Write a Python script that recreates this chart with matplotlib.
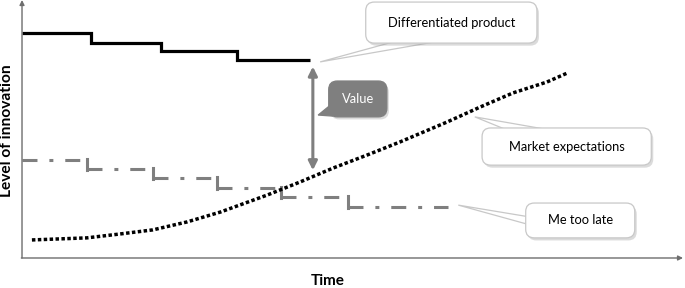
import numpy as np
import matplotlib
matplotlib.use("Agg")
import matplotlib.pyplot as plt
from matplotlib.patches import FancyBboxPatch, Polygon

plt.rcParams['font.family'] = ['Lato', 'DejaVu Sans']

# --- datos (tiempo 0-10, nivel 0-10) ---
diff_t = [0, 1.05, 2.10, 3.25, 4.36]
diff_level = [8.72, 8.33, 8.02, 7.67]

late_t = [0, 0.98, 1.98, 2.95, 3.92, 4.93, 6.44]
late_level = [3.80, 3.45, 3.10, 2.71, 2.36, 1.98]

market_t = [0.15, 0.98, 1.48, 1.98, 2.50, 3.00, 3.71, 4.21, 4.71, 5.22, 5.72,
            6.43, 6.93, 7.43, 7.94, 8.25]
market_level = [0.70, 0.78, 0.93, 1.09, 1.40, 1.78, 2.44, 2.95, 3.49, 3.99, 4.50,
                5.27, 5.85, 6.40, 6.82, 7.17]

value_t = 4.40
value_top = 7.42
value_bottom = 3.40

labels = ["Differentiated product", "Value", "Market expectations", "Me too late"]

GRIS = "#7f7f7f"

fig = plt.figure(figsize=(6.85, 2.88), dpi=100)
ax = fig.add_axes([0, 0, 1, 1])
ax.set_xlim(-0.333, 10.03)
ax.set_ylim(-1.163, 10.0)
ax.axis('off')

# ejes con flecha
ax.annotate("", xy=(0, 10.0), xytext=(0, 0),
            arrowprops=dict(arrowstyle="-|>", color="#6e6e6e", lw=1.0, mutation_scale=7,
                            shrinkA=0, shrinkB=0))
ax.annotate("", xy=(10.0, 0), xytext=(-0.01, 0),
            arrowprops=dict(arrowstyle="-|>", color="#6e6e6e", lw=1.0, mutation_scale=7,
                            shrinkA=0, shrinkB=0))


def escalones(t, niveles):
    xs, ys = [], []
    for i, lv in enumerate(niveles):
        xs += [t[i], t[i + 1]]
        ys += [lv, lv]
    return xs, ys


xs, ys = escalones(diff_t, diff_level)
ax.plot(xs, ys, color="black", lw=2.3, solid_capstyle="butt", solid_joinstyle="miter")

# "me too late": cada tramo arranca con su propio patrón
for i, lv in enumerate(late_level):
    ax.plot([late_t[i], late_t[i + 1]], [lv, lv], color=GRIS, lw=2.2,
            linestyle=(0, (4.9, 3.9, 1.3, 3.9)), dash_capstyle="butt")
    if i > 0:
        ax.plot([late_t[i], late_t[i]], [late_level[i - 1] + 0.04, lv - 0.04], color=GRIS,
                lw=2.2, solid_capstyle="projecting")

ax.plot(market_t, market_level, color="black", lw=2.5, linestyle=(0, (1, 0.7)),
        dash_capstyle="butt")

# flecha de valor
ax.annotate("", xy=(value_t, value_top), xytext=(value_t, value_bottom),
            arrowprops=dict(arrowstyle="<|-|>", color=GRIS, lw=2.2, mutation_scale=13,
                            shrinkA=0, shrinkB=0))

ASPECT = 66.1 / 25.8


def callout(x0, y0, x1, y1, texto, cola, punta, fc="white", ec="#c8c8c8", tc="black"):
    # cola (triángulo)
    ax.add_patch(Polygon([cola[0], punta, cola[1]], closed=True, fc=fc, ec=ec, lw=0.9, zorder=3))
    # sombra
    sh = FancyBboxPatch((x0 + 0.03, y0 - 0.1), x1 - x0, y1 - y0,
                        boxstyle="round,pad=0,rounding_size=0.13", mutation_aspect=ASPECT,
                        fc="#9a9a9a", ec="none", alpha=0.35, zorder=3)
    ax.add_patch(sh)
    caja = FancyBboxPatch((x0, y0), x1 - x0, y1 - y0,
                          boxstyle="round,pad=0,rounding_size=0.13", mutation_aspect=ASPECT,
                          fc=fc, ec=ec, lw=0.9, zorder=4)
    ax.add_patch(caja)
    ax.text((x0 + x1) / 2, (y0 + y1) / 2, texto, ha="center", va="center",
            fontsize=9.3, color=tc, zorder=5)


callout(5.20, 8.33, 7.79, 9.92, labels[0],
        cola=[(5.65, 8.40), (6.30, 8.40)], punta=(4.51, 7.60))
callout(4.64, 5.47, 5.52, 6.86, labels[1],
        cola=[(4.70, 5.50), (4.70, 6.00)], punta=(4.48, 5.54), fc=GRIS, ec=GRIS, tc="white")
callout(6.96, 3.60, 9.52, 5.04, labels[2],
        cola=[(7.30, 5.00), (7.90, 5.00)], punta=(6.85, 5.47))
callout(7.62, 0.78, 9.27, 2.13, labels[3],
        cola=[(7.66, 1.30), (7.66, 1.60)], punta=(6.60, 2.05))

ax.text(-0.227, 4.95, "Level of innovation", rotation=90, ha="center", va="center",
        fontsize=11.2, fontweight="bold")
ax.text(4.63, -0.89, "Time", ha="center", va="center", fontsize=11, fontweight="bold")

fig.savefig("out.png", dpi=100)
